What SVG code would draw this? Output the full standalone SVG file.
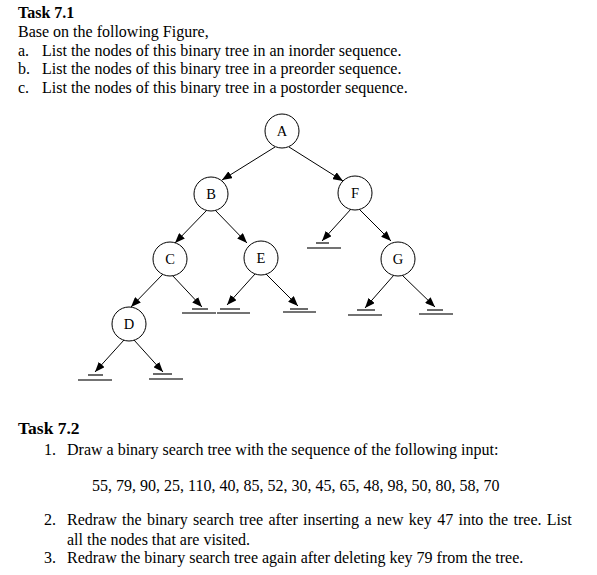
<svg xmlns="http://www.w3.org/2000/svg" width="597" height="575" viewBox="0 0 597 575">
<style>
text{font-family:"Liberation Serif","Times New Roman",serif;fill:#000}
.t{font-size:16px}
.h{font-size:16px;font-weight:bold}
.h2{font-size:17.5px;font-weight:bold}
.n{font-size:14.5px;text-anchor:middle}
circle{fill:#fff;stroke:#000;stroke-width:1}
.e{stroke:#000;stroke-width:1;fill:none;marker-end:url(#ah)}
.gs{stroke:#444;stroke-width:1.6}
.gl{stroke:#444;stroke-width:1.4}
</style>
<defs>
<marker id="ah" markerUnits="userSpaceOnUse" markerWidth="10" markerHeight="8" refX="10" refY="4" orient="auto">
<path d="M0,0 L10,4 L0,8 z" fill="#000"/>
</marker>
</defs>
<rect width="597" height="575" fill="#fff"/>
<g id="task71-text">
<text class="h" x="18" y="17.5">Task 7.1</text>
<text class="t" x="18" y="36.5">Base on the following Figure,</text>
<text class="t" x="18" y="55.5">a.</text><text class="t" x="42" y="55.5">List the nodes of this binary tree in an inorder sequence.</text>
<text class="t" x="18" y="74">b.</text><text class="t" x="42" y="74">List the nodes of this binary tree in a preorder sequence.</text>
<text class="t" x="18" y="92.5">c.</text><text class="t" x="42" y="92.5">List the nodes of this binary tree in a postorder sequence.</text>
</g>
<g id="connectors">
<line class="e" x1="275" y1="147" x2="222" y2="180"/>
<line class="e" x1="289" y1="147" x2="343" y2="181"/>
<line class="e" x1="207" y1="210" x2="175" y2="243"/>
<line class="e" x1="215" y1="210" x2="247" y2="243"/>
<line class="e" x1="351" y1="209" x2="322" y2="241"/>
<line class="e" x1="359" y1="209" x2="391" y2="241"/>
<line class="e" x1="163" y1="274" x2="131" y2="307"/>
<line class="e" x1="172" y1="275" x2="202" y2="307"/>
<line class="e" x1="255" y1="274" x2="227" y2="305"/>
<line class="e" x1="266" y1="274" x2="298" y2="306"/>
<line class="e" x1="394" y1="275" x2="365" y2="308"/>
<line class="e" x1="402" y1="275" x2="435" y2="307"/>
<line class="e" x1="124" y1="340" x2="95" y2="372"/>
<line class="e" x1="134" y1="340" x2="163" y2="372"/>
</g>
<g id="grounds">
<line class="gs" x1="316" y1="243" x2="329" y2="243"/><line class="gl" x1="307" y1="248" x2="341" y2="248"/>
<line class="gs" x1="192" y1="309" x2="208" y2="309"/><line class="gl" x1="182" y1="313" x2="216" y2="313"/>
<line class="gs" x1="220" y1="309" x2="240" y2="309"/><line class="gl" x1="217" y1="313" x2="250" y2="313"/>
<line class="gs" x1="290" y1="309" x2="308" y2="309"/><line class="gl" x1="283" y1="312" x2="316" y2="312"/>
<line class="gs" x1="357" y1="310" x2="375" y2="310"/><line class="gl" x1="348" y1="315" x2="382" y2="315"/>
<line class="gs" x1="427" y1="310" x2="443" y2="310"/><line class="gl" x1="419" y1="314" x2="453" y2="314"/>
<line class="gs" x1="88" y1="375" x2="103" y2="375"/><line class="gl" x1="78" y1="380" x2="112" y2="380"/>
<line class="gs" x1="153" y1="374" x2="172" y2="374"/><line class="gl" x1="149" y1="379" x2="183" y2="379"/>
</g>
<g id="node-A"><circle cx="282" cy="131" r="17"/><text class="n" x="282" y="136">A</text></g>
<g id="node-B"><circle cx="211" cy="194" r="17"/><text class="n" x="211" y="199">B</text></g>
<g id="node-F"><circle cx="355" cy="193" r="17"/><text class="n" x="355" y="198">F</text></g>
<g id="node-C"><circle cx="170" cy="259" r="17"/><text class="n" x="170" y="264">C</text></g>
<g id="node-E"><circle cx="261" cy="258" r="17"/><text class="n" x="261" y="263">E</text></g>
<g id="node-G"><circle cx="398" cy="259" r="17"/><text class="n" x="398" y="264">G</text></g>
<g id="node-D"><circle cx="129" cy="324" r="17"/><text class="n" x="129" y="329">D</text></g>
<g id="task72-text">
<text class="h2" x="18" y="434">Task 7.2</text>
<text class="t" x="44" y="455">1.</text><text class="t" x="67" y="455">Draw a binary search tree with the sequence of the following input:</text>
<text class="t" x="92" y="491">55, 79, 90, 25, 110, 40, 85, 52, 30, 45, 65, 48, 98, 50, 80, 58, 70</text>
<text class="t" x="44" y="525">2.</text><text class="t" x="67" y="525" word-spacing="1.3">Redraw the binary search tree after inserting a new key 47 into the tree. List</text>
<text class="t" x="67" y="545">all the nodes that are visited.</text>
<text class="t" x="44" y="563">3.</text><text class="t" x="67" y="563">Redraw the binary search tree again after deleting key 79 from the tree.</text>
</g>
</svg>
